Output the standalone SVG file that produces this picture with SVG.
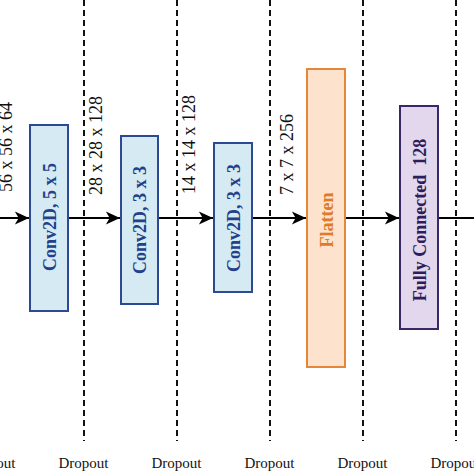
<svg xmlns="http://www.w3.org/2000/svg" width="474" height="474" viewBox="0 0 474 474">
<style>
.dash{stroke:#111;stroke-width:2;stroke-dasharray:6 4;fill:none}
.conn{stroke:#000;stroke-width:2;fill:none}
.blue{fill:#d5eaf2;stroke:#2b4a93;stroke-width:2}
.orange{fill:#fde3cd;stroke:#e5873a;stroke-width:2}
.purple{fill:#e2d7ec;stroke:#3a2766;stroke-width:2}
.lbl{font-family:"Liberation Serif","Times New Roman",serif;font-size:18px;font-weight:bold;text-anchor:middle;white-space:pre}
.dim{font-family:"Liberation Serif","Times New Roman",serif;font-size:18px;fill:#111}
.drop{font-family:"Liberation Serif","Times New Roman",serif;font-size:15px;fill:#111;text-anchor:middle}
</style>
<defs>
<marker id="arr" markerUnits="userSpaceOnUse" markerWidth="16" markerHeight="16" viewBox="-16 -8 17 16" refX="0" refY="0" orient="auto">
<path d="M0,0 L-15,-7 L-11,0 L-15,7 Z" fill="#000"/>
</marker>
</defs>
<rect width="474" height="474" fill="#fff"/>
<g id="dropouts">
<line class="dash" x1="84" y1="0" x2="84" y2="441"/>
<line class="dash" x1="177" y1="0" x2="177" y2="441"/>
<line class="dash" x1="270" y1="0" x2="270" y2="441"/>
<line class="dash" x1="363" y1="0" x2="363" y2="441"/>
<line class="dash" x1="456" y1="0" x2="456" y2="441"/>
<text class="drop" x="-9.5" y="468">Dropout</text>
<text class="drop" x="83.5" y="468">Dropout</text>
<text class="drop" x="176.5" y="468">Dropout</text>
<text class="drop" x="269.5" y="468">Dropout</text>
<text class="drop" x="362.5" y="468">Dropout</text>
<text class="drop" x="455.5" y="468">Dropout</text>
</g>
<g id="dims">
<text class="dim" transform="translate(12,192) rotate(-90)">56 x 56 x 64</text>
<text class="dim" transform="translate(101.5,195) rotate(-90)">28 x 28 x 128</text>
<text class="dim" transform="translate(195,194) rotate(-90)">14 x 14 x 128</text>
<text class="dim" transform="translate(293,195) rotate(-90)">7 x 7 x 256</text>
</g>
<g id="connectors">
<line class="conn" x1="0" y1="218" x2="29" y2="218" marker-end="url(#arr)"/>
<line class="conn" x1="68" y1="218" x2="120" y2="218" marker-end="url(#arr)"/>
<line class="conn" x1="158" y1="218" x2="213" y2="218" marker-end="url(#arr)"/>
<line class="conn" x1="252" y1="218" x2="306" y2="218" marker-end="url(#arr)"/>
<line class="conn" x1="345" y1="218" x2="399" y2="218" marker-end="url(#arr)"/>
<line class="conn" x1="438" y1="218" x2="474" y2="218"/>
</g>
<g id="conv1">
<rect class="blue" x="30" y="125" width="38" height="186"/>
<text class="lbl" fill="#22408c" transform="translate(56,217) rotate(-90)">Conv2D, 5 x 5</text>
</g>
<g id="conv2">
<rect class="blue" x="121" y="136" width="37" height="168"/>
<text class="lbl" fill="#22408c" transform="translate(146,220) rotate(-90)">Conv2D, 3 x 3</text>
</g>
<g id="conv3">
<rect class="blue" x="214" y="143" width="38" height="149"/>
<text class="lbl" fill="#22408c" transform="translate(239.5,218) rotate(-90)">Conv2D, 3 x 3</text>
</g>
<g id="flatten">
<rect class="orange" x="307" y="69" width="38" height="298"/>
<text class="lbl" fill="#e07a28" transform="translate(333,220) rotate(-90)">Flatten</text>
</g>
<g id="fc">
<rect class="purple" x="400" y="106" width="38" height="223"/>
<text class="lbl" fill="#2f1c5c" transform="translate(425.5,220) rotate(-90)">Fully Connected  128</text>
</g>
</svg>
